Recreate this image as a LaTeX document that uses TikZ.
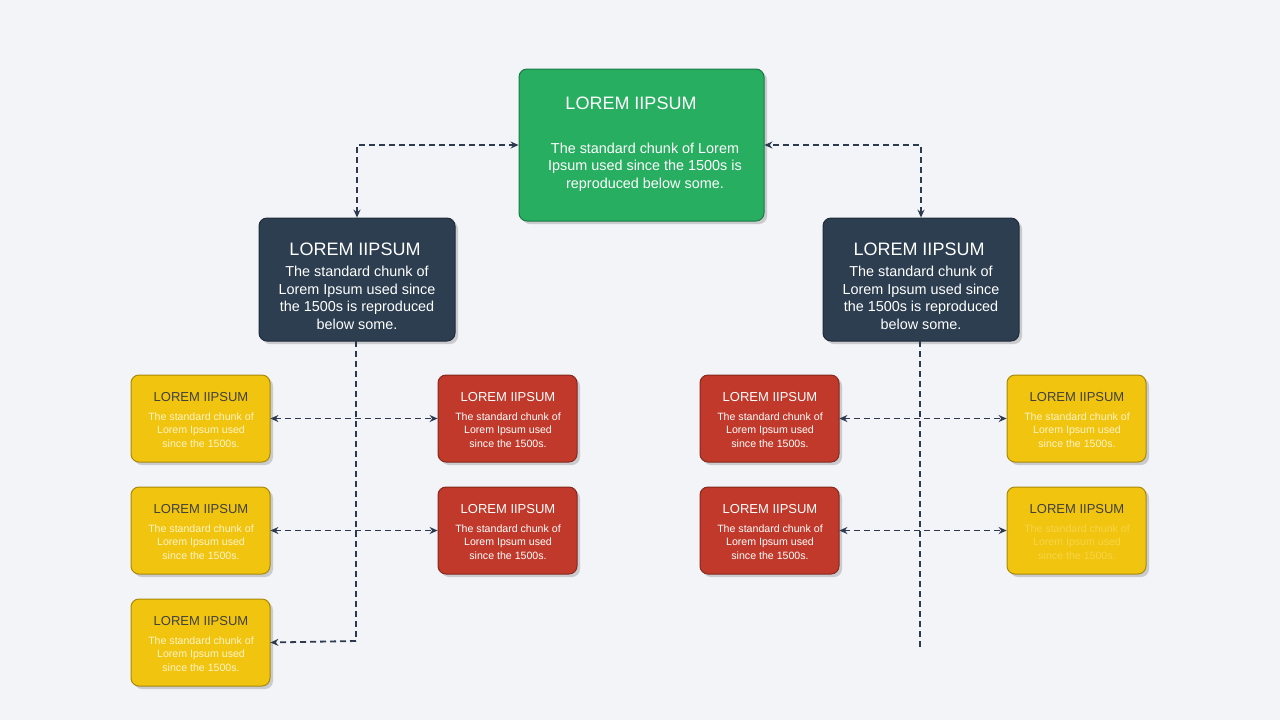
\documentclass[tikz,border=0pt]{standalone}
\usepackage{fontspec}
\setmainfont{Liberation Sans}
\usetikzlibrary{shadows,arrows.meta}
\definecolor{bg}{HTML}{F2F4F8}
\definecolor{gr}{HTML}{27AE60}
\definecolor{nv}{HTML}{2C3E50}
\definecolor{yl}{HTML}{F1C40F}
\definecolor{rd}{HTML}{C0392B}
\definecolor{ln}{HTML}{2D3A4E}
\definecolor{yt}{HTML}{FFF4C8}
\definecolor{yf}{HTML}{F6D548}
\begin{document}
\begin{tikzpicture}[x=0.5pt,y=-0.5pt,
  box/.style={draw=#1!70!black,fill=#1,rounded corners=4pt,line width=0.5pt,drop shadow={shadow xshift=1.5pt,shadow yshift=-1.5pt,opacity=0.35}},
  big/.style={font=\fontsize{9}{10}\selectfont,text=white},
  mid/.style={font=\fontsize{7.2}{8.8}\selectfont,text=white,align=center},
  st/.style={font=\fontsize{6.5}{7.5}\selectfont},
  sb/.style={font=\fontsize{5.3}{6.8}\selectfont,align=center},
  con/.style={draw=ln,line width=0.9pt,dash pattern=on 3pt off 2pt},
  ar/.style={-{Stealth[length=4pt,width=3.5pt]}},
  ar2/.style={{Stealth[length=4pt,width=3.5pt]}-{Stealth[length=4pt,width=3.5pt]}}]
\fill[bg] (0,0) rectangle (1280,720);
% green
\path[box=gr] (519,69) rectangle (764,221);
\node[inner sep=0,minimum width=122.5pt,minimum height=76pt] (g) at (641.5,145) {};
\node[big] (gt) at (631,103) {LOREM IIPSUM};
\node[mid] (gb) at (645,167) {The standard chunk of Lorem\\Ipsum used since the 1500s is\\reproduced below some.};
% navy
\foreach \n/\x in {nl/259,nr/823}{
  \path[box=nv] (\x,218) rectangle ({\x+196},341);
  \node[inner sep=0,minimum width=98pt,minimum height=61.5pt] (\n) at ({\x+98},279.5) {};
  \node[big] (\n t) at ({\x+96},249) {LOREM IIPSUM};
  \node[mid] (\n b) at ({\x+98},298) {The standard chunk of\\Lorem Ipsum used since\\the 1500s is reproduced\\below some.};
}
% small boxes
\foreach \n/\x/\y/\c/\tc/\bc in {y1/131/375/yl/black!75/yt, y2/131/487/yl/black!75/yt, y3/131/599/yl/black!75/yt,
  r1/438/375/rd/white/white, r2/438/487/rd/white/white,
  r3/700/375/rd/white/white, r4/700/487/rd/white/white,
  y4/1007/375/yl/black!75/yt, y5/1007/487/yl/black!75/yf}{
  \path[box=\c] (\x,\y) rectangle ({\x+139},{\y+87});
  \node[inner sep=0,minimum width=69.5pt,minimum height=43.5pt] (\n) at ({\x+69.5},{\y+43.5}) {};
  \node[st,text=\tc] (\n t) at ({\x+70},{\y+22}) {LOREM IIPSUM};
  \node[sb,text=\bc] (\n b) at ({\x+70},{\y+55}) {The standard chunk of\\Lorem Ipsum used\\since the 1500s.};
}
% connectors
\coordinate (lc) at (356,341);
\coordinate (ll) at (356,641);
\coordinate (rc) at (920,341);
\coordinate (re) at (920,647);
\draw[con,ar2] (nl.north) |- (g.west);
\draw[con,ar2] (nr.north) |- (g.east);
\draw[con] (lc) -- (ll);
\draw[con] (rc) -- (re);
\draw[con,ar2] (y1.east) -- (r1.west);
\draw[con,ar2] (y2.east) -- (r2.west);
\draw[con,ar] (ll) -- (y3.east);
\draw[con,ar2] (r3.east) -- (y4.west);
\draw[con,ar2] (r4.east) -- (y5.west);
\end{tikzpicture}
\end{document}
